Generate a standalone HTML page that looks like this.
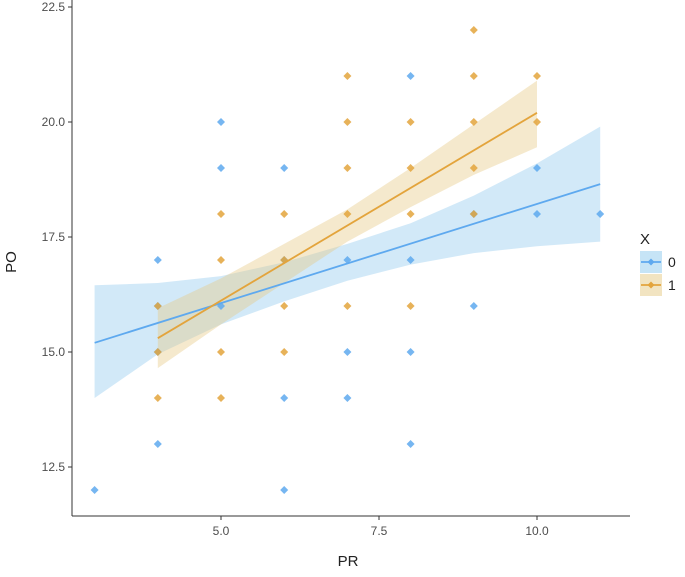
<!DOCTYPE html>
<html><head><meta charset="utf-8"><style>
body{margin:0;background:#fff}
svg{font-family:"Liberation Sans",sans-serif}
</style></head><body>
<svg id="chart" width="685" height="572" xmlns="http://www.w3.org/2000/svg"></svg>
<script>
const xTicks=[5.0,7.5,10.0];
const yTicks=[12.5,15.0,17.5,20.0,22.5];
const blueX=[3,4,4,4,4,5,5,5,6,6,6,6,7,7,7,8,8,8,8,9,9,10,10,11];
const blueY=[12,17,16,15,13,20,19,16,19,17,14,12,17,15,14,21,17,15,13,18,16,19,18,18];
const orangeX=[4,4,4,5,5,5,5,6,6,6,6,7,7,7,7,7,8,8,8,8,9,9,9,9,9,10,10];
const orangeY=[16,15,14,18,17,15,14,18,16,15,17,21,20,19,18,16,20,19,18,16,22,21,20,19,18,21,20];
const blueLineX=[3,11];
const blueLineY=[15.2,18.65];
const blueBandX=[3,4,5,6,7,8,9,10,11];
const blueLow=[14.0,14.95,15.6,16.1,16.55,16.9,17.15,17.3,17.4];
const blueHigh=[16.45,16.5,16.65,16.95,17.35,17.8,18.4,19.1,19.9];
const orangeLineX=[4,10];
const orangeLineY=[15.3,20.2];
const orangeBandX=[4,5,6,7,8,9,10];
const orangeLow=[14.65,15.6,16.5,17.4,18.15,18.85,19.45];
const orangeHigh=[15.95,16.6,17.35,18.1,19.0,19.95,20.9];

const sx=v=>221+(v-5)*63.2;
const sy=v=>122+(20-v)*46;
const svg=document.getElementById('chart');
const NS='http://www.w3.org/2000/svg';
function mk(t,a,p){const e=document.createElementNS(NS,t);for(const k in a)e.setAttribute(k,a[k]);(p||svg).appendChild(e);return e;}

function band(xs,lo,hi,fill,name){
  let d='M'+xs.map((x,i)=>sx(x)+','+sy(hi[i])).join('L');
  d+='L'+xs.slice().reverse().map((x,j)=>{const i=xs.length-1-j;return sx(x)+','+sy(lo[i]);}).join('L')+'Z';
  const e=mk('path',{d:d,fill:fill,'fill-opacity':0.4,'stroke-linejoin':'round'});
  
  
}
band(blueBandX,blueLow,blueHigh,'#8ec9ee','ribbon-x0');
band(orangeBandX,orangeLow,orangeHigh,'#e6c983','ribbon-x1');

function pts(xs,ys,c,name){
  xs.forEach((x,i)=>{
    const cx=sx(x),cy=sy(ys[i]);
    const e=mk('path',{d:`M${cx},${cy-4}L${cx+4},${cy}L${cx},${cy+4}L${cx-4},${cy}Z`,fill:c,'fill-opacity':0.85});
    
    
  });
}
pts(blueX,blueY,'#5ea9ef','point-x0');
pts(orangeX,orangeY,'#e3a43c','point-x1');

function line(xs,ys,c,name){
  const e=mk('line',{x1:sx(xs[0]),y1:sy(ys[0]),x2:sx(xs[1]),y2:sy(ys[1]),stroke:c,'stroke-width':1.8});
  
  
}
line(blueLineX,blueLineY,'#5ea9ef','fit-line-x0');
line(orangeLineX,orangeLineY,'#e3a43c','fit-line-x1');

let ax=mk('line',{x1:72,y1:0,x2:72,y2:516,stroke:'#333','stroke-width':1});


ax=mk('line',{x1:72,y1:516,x2:630,y2:516,stroke:'#333','stroke-width':1});


xTicks.forEach(v=>{
  mk('line',{x1:sx(v),y1:516,x2:sx(v),y2:520,stroke:'#333'});
  const t=mk('text',{x:sx(v),y:535,'text-anchor':'middle','font-size':12,fill:'#4d4d4d'});t.textContent=v.toFixed(1);
  
  
});
yTicks.forEach(v=>{
  mk('line',{x1:68,y1:sy(v),x2:72,y2:sy(v),stroke:'#333'});
  const t=mk('text',{x:65,y:sy(v)+4,'text-anchor':'end','font-size':12,fill:'#4d4d4d'});t.textContent=v.toFixed(1);
  
  
});
let t=mk('text',{x:348,y:566,'text-anchor':'middle','font-size':15,fill:'#222'});t.textContent='PR';


t=mk('text',{x:0,y:0,'text-anchor':'middle','font-size':15,fill:'#222',transform:'translate(16,262) rotate(-90)'});t.textContent='PO';



t=mk('text',{x:640,y:244,'font-size':15,fill:'#222'});t.textContent='X';


[['0','#8ec9ee','#5ea9ef',251],['1','#e6c983','#e3a43c',274]].forEach(([lab,f,c,y])=>{
  const g=mk('g',{});
  
  
  mk('rect',{x:640,y:y,width:22,height:22,fill:f,'fill-opacity':0.5},g);
  mk('line',{x1:641,y1:y+11,x2:661,y2:y+11,stroke:c,'stroke-width':1.8},g);
  mk('path',{d:`M651,${y+7.5}L654.5,${y+11}L651,${y+14.5}L647.5,${y+11}Z`,fill:c},g);
  const tt=mk('text',{x:668,y:y+16,'font-size':14,fill:'#222'},g);tt.textContent=lab;
});
</script>
</body></html>
